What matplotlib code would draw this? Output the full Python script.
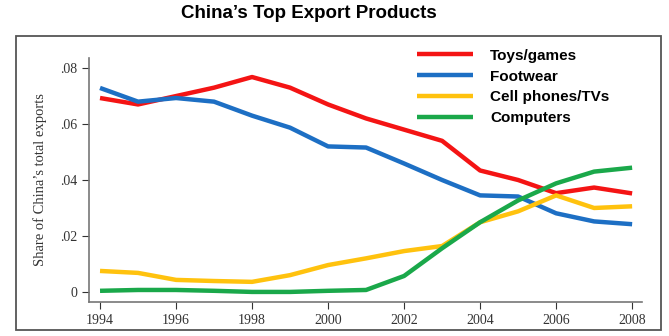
import matplotlib.pyplot as plt
from matplotlib.patches import Rectangle

years = list(range(1994, 2009))
toys = [0.0693, 0.0670, 0.0700, 0.0730, 0.0768, 0.0730, 0.0670, 0.0620, 0.0580, 0.0540,
        0.0434, 0.0400, 0.0353, 0.0373, 0.0352]
footwear = [0.0729, 0.0680, 0.0693, 0.0680, 0.0630, 0.0587, 0.0520, 0.0516, 0.0459, 0.0400,
            0.0345, 0.0341, 0.0281, 0.0252, 0.0242]
phones = [0.0075, 0.0068, 0.0043, 0.0039, 0.0036, 0.0060, 0.0096, 0.0120, 0.0146, 0.0164,
          0.0249, 0.0288, 0.0345, 0.0300, 0.0306]
computers = [0.0004, 0.0007, 0.0007, 0.0004, 0.0000, 0.0000, 0.0004, 0.0007, 0.0057, 0.0156,
             0.0249, 0.0327, 0.0388, 0.0430, 0.0444]

series_names = ["Toys/games", "Footwear", "Cell phones/TVs", "Computers"]
colors = ["#f41414", "#1d6fc4", "#ffc20e", "#1aa84a"]
yticks = [0, 0.02, 0.04, 0.06, 0.08]
ytick_labels = ["0", ".02", ".04", ".06", ".08"]
xticks = list(range(1994, 2009, 2))

bold_font = "Liberation Sans"
serif_font = "Liberation Serif"

fig = plt.figure(figsize=(6.69, 3.36), dpi=100)
ax = fig.add_axes([89 / 669, 1 - 302 / 336, (642 - 89) / 669, (302 - 58) / 336])

# outer frame
fig.patches.append(Rectangle((16 / 669, 1 - 330 / 336), (661 - 16) / 669, (330 - 36) / 336,
                             transform=fig.transFigure, fill=False,
                             edgecolor="#555555", linewidth=1.3))

lines = []
for vals, c in zip([toys, footwear, phones, computers], colors):
    ln, = ax.plot(years, vals, color=c, linewidth=3.2, solid_capstyle="butt")
    lines.append(ln)

ax.set_xlim(1993.71, 2008.26)
ax.set_ylim(-0.0036, 0.0836)
ax.set_xticks(xticks)
ax.set_yticks(yticks)
ax.set_yticklabels(ytick_labels)
for side in ["top", "right"]:
    ax.spines[side].set_visible(False)
for side in ["left", "bottom"]:
    ax.spines[side].set_color("#777777")
    ax.spines[side].set_linewidth(1.2)
ax.tick_params(colors="#333333", length=5, width=0.8, labelsize=10)
for lab in ax.get_xticklabels() + ax.get_yticklabels():
    lab.set_fontfamily(serif_font)
ax.set_ylabel("Share of China\u2019s total exports", fontfamily=serif_font,
              fontsize=10.5, color="#333333", labelpad=9)

fig.text(309 / 669, 1 - 13 / 336, "China\u2019s Top Export Products", ha="center", va="center",
         fontsize=13.5, fontweight="bold", fontfamily=bold_font)

leg = fig.legend(lines, series_names, loc="upper left",
                 bbox_to_anchor=(403 / 669, 1 - 35 / 336),
                 frameon=False, handlelength=3.7, handletextpad=1.1, labelspacing=0.45,
                 prop={"family": bold_font, "weight": "bold", "size": 11})

fig.savefig("out.png", dpi=100)
